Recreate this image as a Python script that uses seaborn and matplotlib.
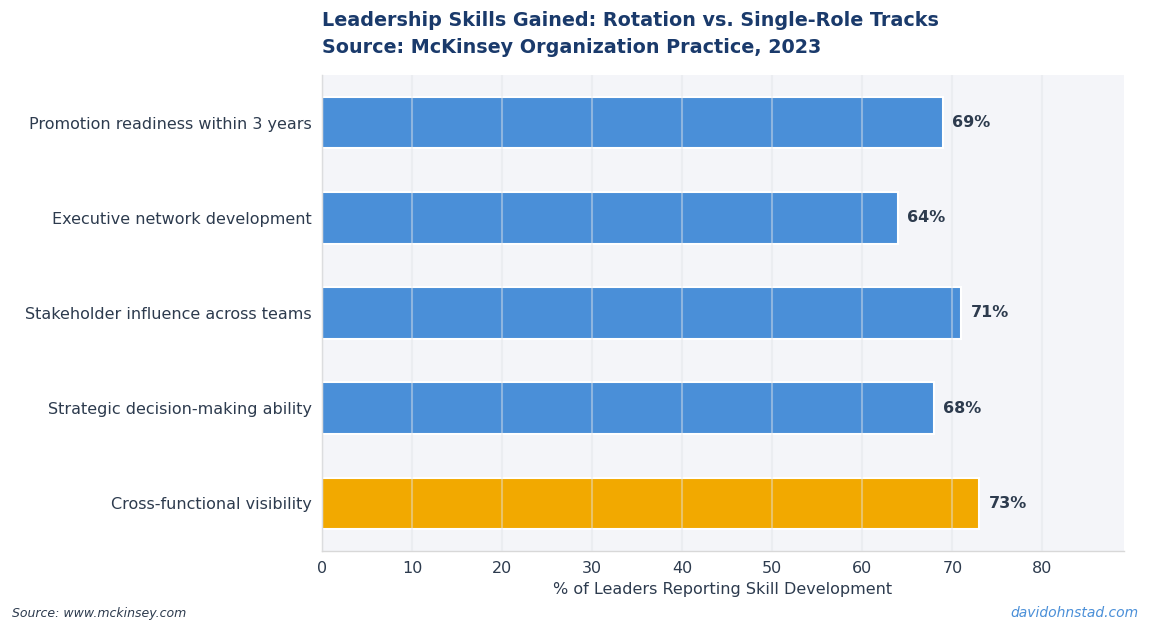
import matplotlib
matplotlib.use("Agg")
import pandas as pd
import matplotlib.pyplot as plt
import seaborn as sns

# Data
skills = [
    "Promotion readiness within 3 years",
    "Executive network development",
    "Stakeholder influence across teams",
    "Strategic decision-making ability",
    "Cross-functional visibility",
]
percent = [69, 64, 71, 68, 73]
highlight = "Cross-functional visibility"

df = pd.DataFrame({"skill": skills, "pct": percent})
colors = ["#f2a900" if s == highlight else "#4a8fd8" for s in skills]

sns.set_theme(style="whitegrid")
plt.rcParams["font.family"] = ["DejaVu Sans"]

text_col = "#2d3b4e"
fig, ax = plt.subplots(figsize=(11.5, 6.31), dpi=100)
fig.subplots_adjust(left=0.28, right=0.977, top=0.881, bottom=0.127)
ax.set_facecolor("#f4f5f9")

sns.barplot(data=df, x="pct", y="skill", hue="skill", palette=colors,
            legend=False, width=0.54, saturation=1, edgecolor="white",
            linewidth=1.5, ax=ax)

ax.set_axisbelow(False)
ax.grid(axis="x", color="#e2e4e8", linewidth=1.5, alpha=0.45)
ax.grid(axis="y", visible=False)
ax.set_xlim(0, 89)
ax.set_xticks(range(0, 81, 10))

for i, v in enumerate(percent):
    ax.text(v + 1, i, f"{v}%", va="center", ha="left", fontsize=11.5,
            fontweight="bold", color=text_col)

ax.set_ylabel("")
ax.set_xlabel("% of Leaders Reporting Skill Development", fontsize=11.5, color=text_col)
ax.tick_params(axis="both", labelsize=11.5, colors=text_col, length=4, width=0.8)
ax.tick_params(axis="both", color="#999999")
for side in ["top", "right"]:
    ax.spines[side].set_visible(False)
for side in ["left", "bottom"]:
    ax.spines[side].set_color("#d8d8d8")
    ax.spines[side].set_linewidth(1)

ax.set_title("Leadership Skills Gained: Rotation vs. Single-Role Tracks\n"
             "Source: McKinsey Organization Practice, 2023",
             loc="left", fontsize=13.8, fontweight="bold", color="#1a3a6b",
             linespacing=1.55, pad=16)

fig.text(0.010, 0.028, "Source: www.mckinsey.com", fontsize=9, style="italic",
         color=text_col, ha="left", va="center")
fig.text(0.990, 0.028, "davidohnstad.com", fontsize=10, style="italic",
         color="#4a8fd8", ha="right", va="center")

fig.savefig("out.png", dpi=100)
